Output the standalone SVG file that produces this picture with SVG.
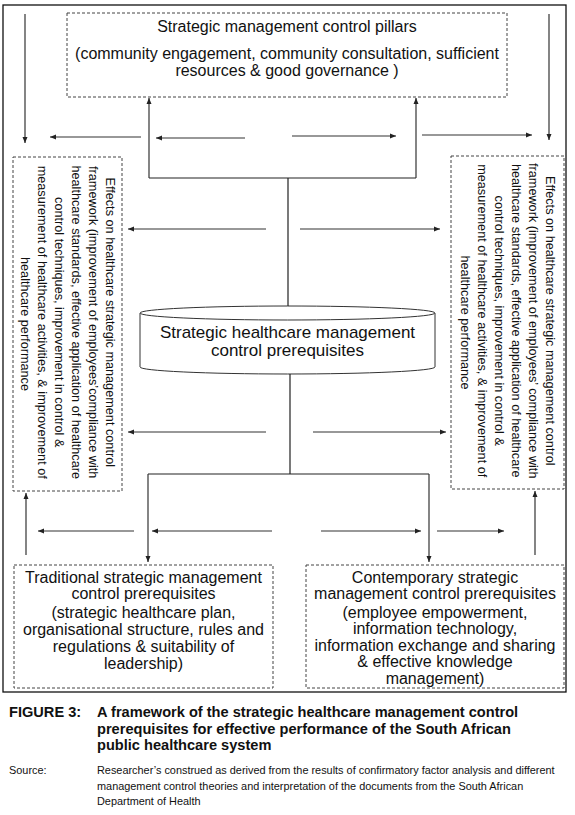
<svg xmlns="http://www.w3.org/2000/svg" width="575" height="815" viewBox="0 0 575 815">
<style>
  .box{fill:none;stroke:#444;stroke-width:1;stroke-dasharray:3,2}
  .ln{fill:none;stroke:#222;stroke-width:1.2}
  .arr{fill:none;stroke:#333;stroke-width:1.2;marker-end:url(#ah)}
  .t16{font-family:"Liberation Sans",Arial,sans-serif;font-size:16px;fill:#111;text-anchor:middle}
  .t17{font-family:"Liberation Sans",Arial,sans-serif;font-size:17px;fill:#111;text-anchor:middle}
  .tr{font-family:"Liberation Sans",Arial,sans-serif;font-size:12.7px;fill:#111;text-anchor:middle}
  .cap{font-family:"Liberation Sans",Arial,sans-serif;font-size:14.6px;font-weight:bold;fill:#111}
  .src{font-family:"Liberation Sans",Arial,sans-serif;font-size:10.9px;fill:#111}
</style>
<defs>
  <marker id="ah" markerUnits="userSpaceOnUse" markerWidth="6" markerHeight="6" refX="6" refY="3" orient="auto">
    <path d="M0,0.5 L6,3 L0,5.5 z" fill="#222"/>
  </marker>
</defs>
<rect x="0" y="0" width="575" height="815" fill="#fff"/>
<rect id="frame" x="3" y="5" width="563" height="687" fill="none" stroke="#111" stroke-width="1.3"/>

<g id="pillars">
  <rect class="box" x="67" y="13" width="440" height="84"/>
  <text class="t16" x="287" y="32">Strategic management control pillars</text>
  <text class="t16" x="287" y="59">(community engagement, community consultation, sufficient</text>
  <text class="t16" x="287" y="76">resources &amp; good governance )</text>
</g>

<g id="effects-left">
  <rect class="box" x="13" y="157" width="109" height="334"/>
  <g transform="translate(67.5,324) rotate(90)">
    <text class="tr">
      <tspan x="0" y="-38">Effects on healthcare strategic management control</tspan>
      <tspan x="0" y="-21">framework (improvement of employees’compliance with</tspan>
      <tspan x="0" y="-4">healthcare standards, effective application of healthcare</tspan>
      <tspan x="0" y="13">control techniques, improvement in control &amp;</tspan>
      <tspan x="0" y="30">measurement of healthcare activities, &amp; improvement of</tspan>
      <tspan x="0" y="47">healthcare performance</tspan>
    </text>
  </g>
</g>

<g id="effects-right">
  <rect class="box" x="451" y="156" width="113" height="333"/>
  <g transform="translate(507.5,322.5) rotate(90)">
    <text class="tr">
      <tspan x="0" y="-38">Effects on healthcare strategic management control</tspan>
      <tspan x="0" y="-21">framework (improvement of employees’ compliance with</tspan>
      <tspan x="0" y="-4">healthcare standards, effective application of healthcare</tspan>
      <tspan x="0" y="13">control techniques, improvement in control &amp;</tspan>
      <tspan x="0" y="30">measurement of healthcare activities, &amp; improvement of</tspan>
      <tspan x="0" y="47">healthcare performance</tspan>
    </text>
  </g>
</g>

<g id="prerequisites">
  <path d="M140,313 L140,367 A147.5,7 0 0 0 435,367 L435,313" fill="#fff" stroke="#333" stroke-width="1"/>
  <ellipse cx="287.5" cy="313" rx="147.5" ry="7" fill="#fff" stroke="#333" stroke-width="1"/>
  <text class="t17" x="287.5" y="338">Strategic healthcare management</text>
  <text class="t17" x="287.5" y="356">control prerequisites</text>
</g>

<g id="traditional">
  <rect class="box" x="14" y="565" width="259" height="123"/>
  <text class="t16" x="143.5" y="582.5">Traditional strategic management</text>
  <text class="t16" x="143.5" y="599">control prerequisites</text>
  <text class="t16" x="143.5" y="618">(strategic healthcare plan,</text>
  <text class="t16" x="143.5" y="635">organisational structure, rules and</text>
  <text class="t16" x="143.5" y="652">regulations &amp; suitability of</text>
  <text class="t16" x="143.5" y="668.5">leadership)</text>
</g>

<g id="contemporary">
  <rect class="box" x="306" y="565" width="258" height="123"/>
  <text class="t16" x="435" y="582.5">Contemporary strategic</text>
  <text class="t16" x="435" y="599">management control prerequisites</text>
  <text class="t16" x="435" y="617.5">(employee empowerment,</text>
  <text class="t16" x="435" y="634">information technology,</text>
  <text class="t16" x="435" y="650.5">information exchange and sharing</text>
  <text class="t16" x="435" y="667">&amp; effective knowledge</text>
  <text class="t16" x="435" y="683.5">management)</text>
</g>

<g id="connectors">
  <path class="ln" d="M149,178 H416 M288,178 V306"/>
  <path class="arr" d="M149,178 V98"/>
  <path class="arr" d="M416,178 V98"/>
  <path class="arr" d="M25,14 V143"/>
  <path class="arr" d="M549,14 V140"/>
  <path class="arr" d="M141,137 H50"/>
  <path class="arr" d="M245,138 H156"/>
  <path class="arr" d="M292,136 H396"/>
  <path class="arr" d="M422,135 H532"/>
  <path class="arr" d="M266,229 H128"/>
  <path class="arr" d="M300,229 H440"/>
  <path class="arr" d="M266,432 H128"/>
  <path class="arr" d="M313,432 H446"/>
  <path class="ln" d="M290,374 V474 M148,474 H429"/>
  <path class="arr" d="M148,474 V562"/>
  <path class="arr" d="M429,474 V562"/>
  <path class="arr" d="M134,531 H38"/>
  <path class="arr" d="M272,531 H152"/>
  <path class="arr" d="M321,531 H421"/>
  <path class="arr" d="M437,531 H504"/>
  <path class="arr" d="M26,555 V493"/>
  <path class="arr" d="M535,555 V491"/>
</g>

<g id="caption">
  <text class="cap" x="9" y="717">FIGURE 3:</text>
  <text class="cap" x="97" y="717">A framework of the strategic healthcare management control</text>
  <text class="cap" x="97" y="733.5">prerequisites for effective performance of the South African</text>
  <text class="cap" x="97" y="750">public healthcare system</text>
  <text class="src" x="9" y="774">Source:</text>
  <text class="src" x="97" y="774">Researcher’s construed as derived from the results of confirmatory factor analysis and different</text>
  <text class="src" x="97" y="789.5">management control theories and interpretation of the documents from the South African</text>
  <text class="src" x="97" y="805">Department of Health</text>
</g>
</svg>
